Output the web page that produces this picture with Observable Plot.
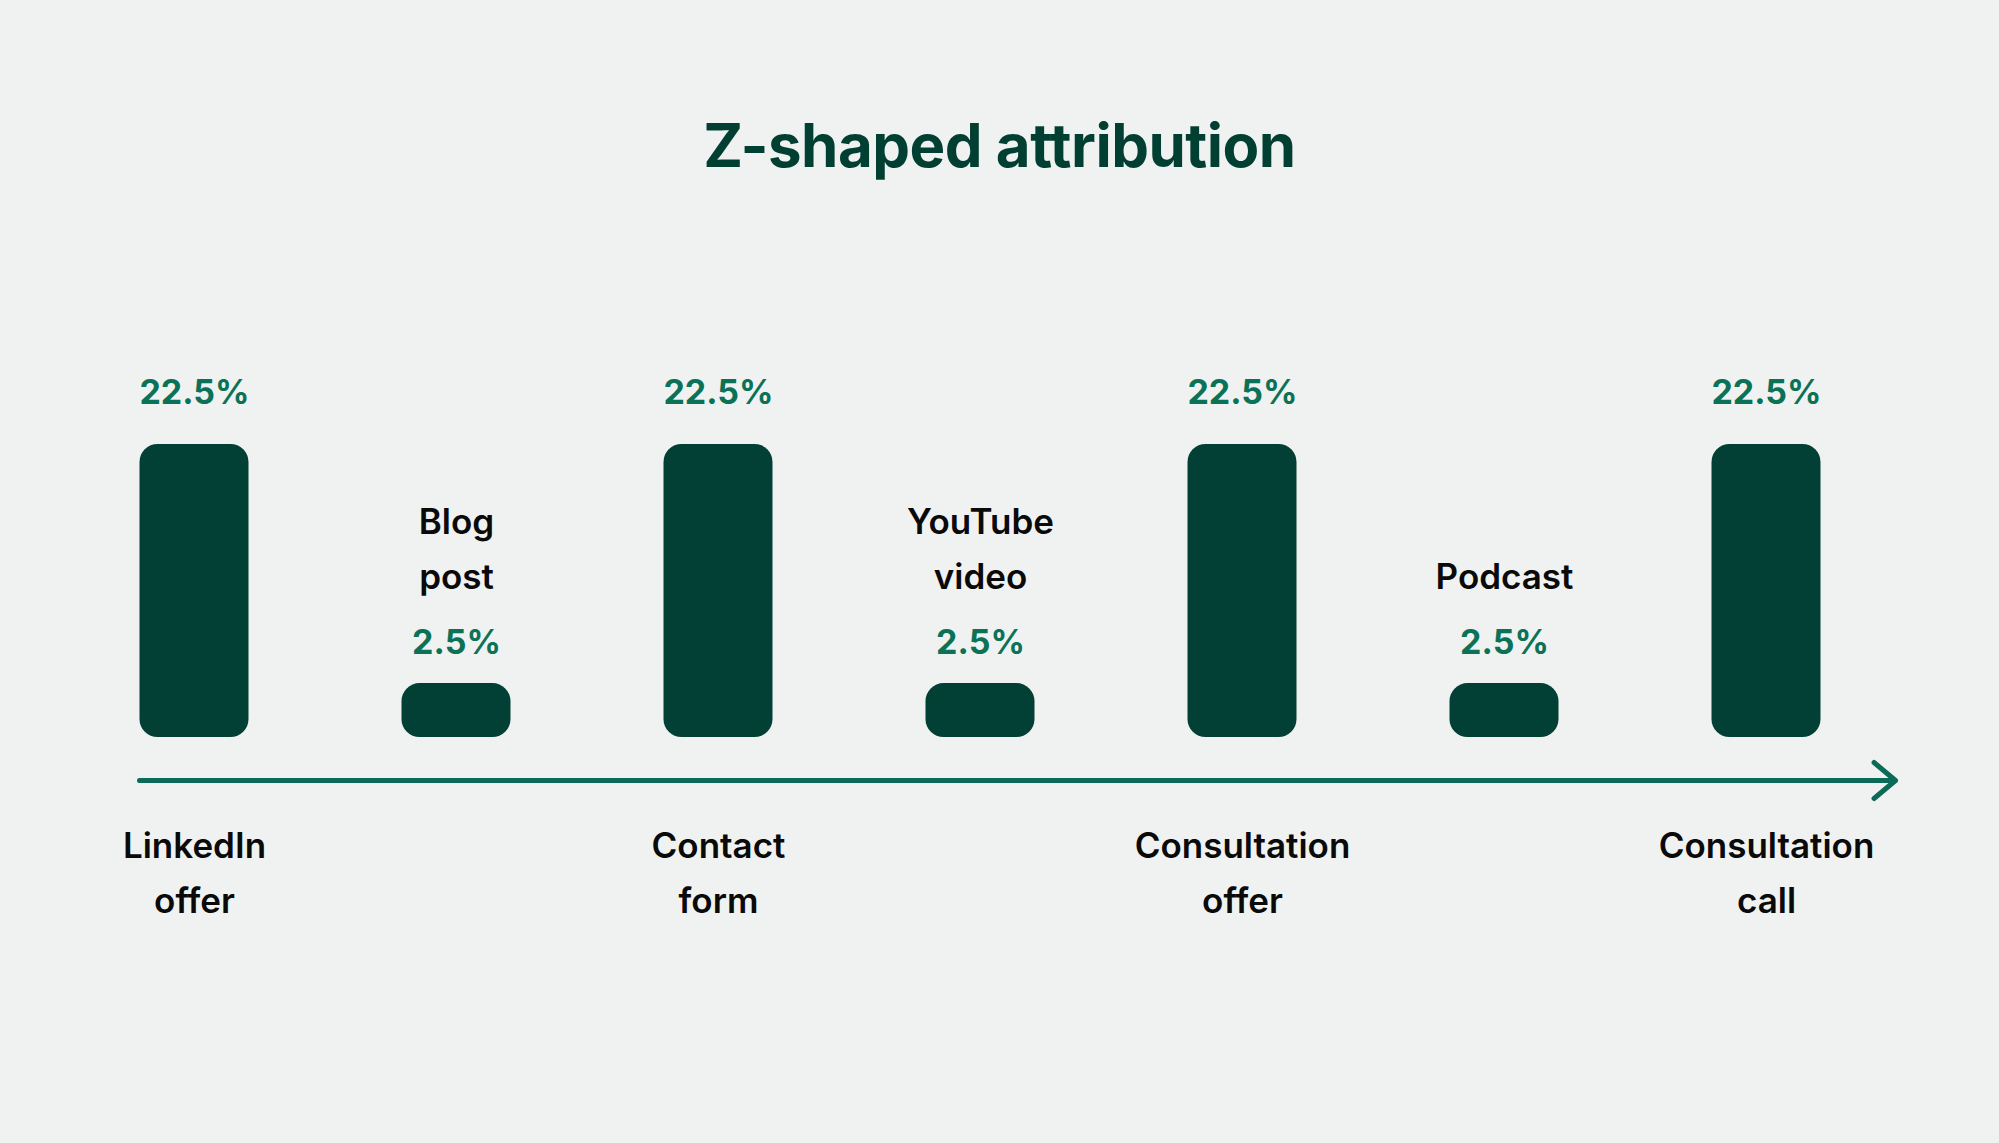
<!DOCTYPE html>
<html>
<head>
<meta charset="utf-8">
<script src="https://cdn.jsdelivr.net/npm/d3@7"></script>
<script src="https://cdn.jsdelivr.net/npm/@observablehq/plot@0.6"></script>
<style>
  html, body { margin: 0; padding: 0; background: #f0f2f1; }
  body { width: 1999px; height: 1143px; overflow: hidden; }
  #title {
    box-sizing: border-box;
    height: 240px;
    padding-top: 115px;
    text-align: center;
    font-family: Inter, sans-serif;
    font-weight: 700;
    font-size: 60px;
    line-height: 60px;
    letter-spacing: -0.5px;
    color: #023f33;
  }
  #chart svg { display: block; }
</style>
</head>
<body>
<div id="title">Z-shaped attribution</div>
<div id="chart"></div>
<script>
// Touchpoints along the customer journey, in order
const touchpoints = ["LinkedIn\noffer", "Blog\npost", "Contact\nform", "YouTube\nvideo", "Consultation\noffer", "Podcast", "Consultation\ncall"];
// Attribution credit (%) for each touchpoint
const credit = [22.5, 2.5, 22.5, 2.5, 22.5, 2.5, 22.5];

const data = touchpoints.map((name, i) => ({name, value: credit[i]}));
const major = data.filter(d => d.value >= 10);
const minor = data.filter(d => d.value < 10);

const barColor = "#023f35";
const valueColor = "#0b7257";
const arrowColor = "#0b6b56";
const font = 35;

const chart = Plot.plot({
  width: 1999,
  height: 903,
  marginTop: 204,
  marginBottom: 430,
  marginLeft: 63,
  marginRight: 102,
  style: {background: "transparent", fontFamily: "Inter, sans-serif", overflow: "visible"},
  x: {type: "band", domain: touchpoints, padding: 0, axis: null},
  y: {domain: [0, 22.5], axis: null},
  marks: [
    Plot.barY(data, {x: "name", y: "value", fill: barColor, rx: 18, insetLeft: 76.5, insetRight: 76.5, insetBottom: -24}),
    Plot.arrow([{from: touchpoints[0], to: touchpoints[touchpoints.length - 1]}], {
      x1: "from", x2: "to", y1: () => 0, y2: () => 0, dy: 67,
      stroke: arrowColor, strokeWidth: 5, headLength: 8.4, headAngle: 80,
      insetStart: -55, insetEnd: -129, strokeLinecap: "round", strokeLinejoin: "round"
    }),
    // value labels
    Plot.text(major, {x: "name", y: "value", text: d => d.value + "%", dy: -41, lineAnchor: "bottom", fill: valueColor, fontSize: 34, fontWeight: 700}),
    Plot.text(minor, {x: "name", y: "value", text: d => d.value + "%", dy: -30, lineAnchor: "bottom", fill: valueColor, fontSize: 34, fontWeight: 700}),
    // names above minor bars
    Plot.text(minor, {x: "name", y: "value", text: "name", dy: -95, lineAnchor: "bottom", lineHeight: 55 / font, fill: "#0a0a0a", fontSize: font, fontWeight: 600}),
    // names below the arrow for major bars
    Plot.text(major, {x: "name", frameAnchor: "bottom", text: "name", dy: 199, lineAnchor: "bottom", lineHeight: 55 / font, fill: "#0a0a0a", fontSize: font, fontWeight: 600})
  ]
});
document.getElementById("chart").appendChild(chart);
</script>
</body>
</html>
